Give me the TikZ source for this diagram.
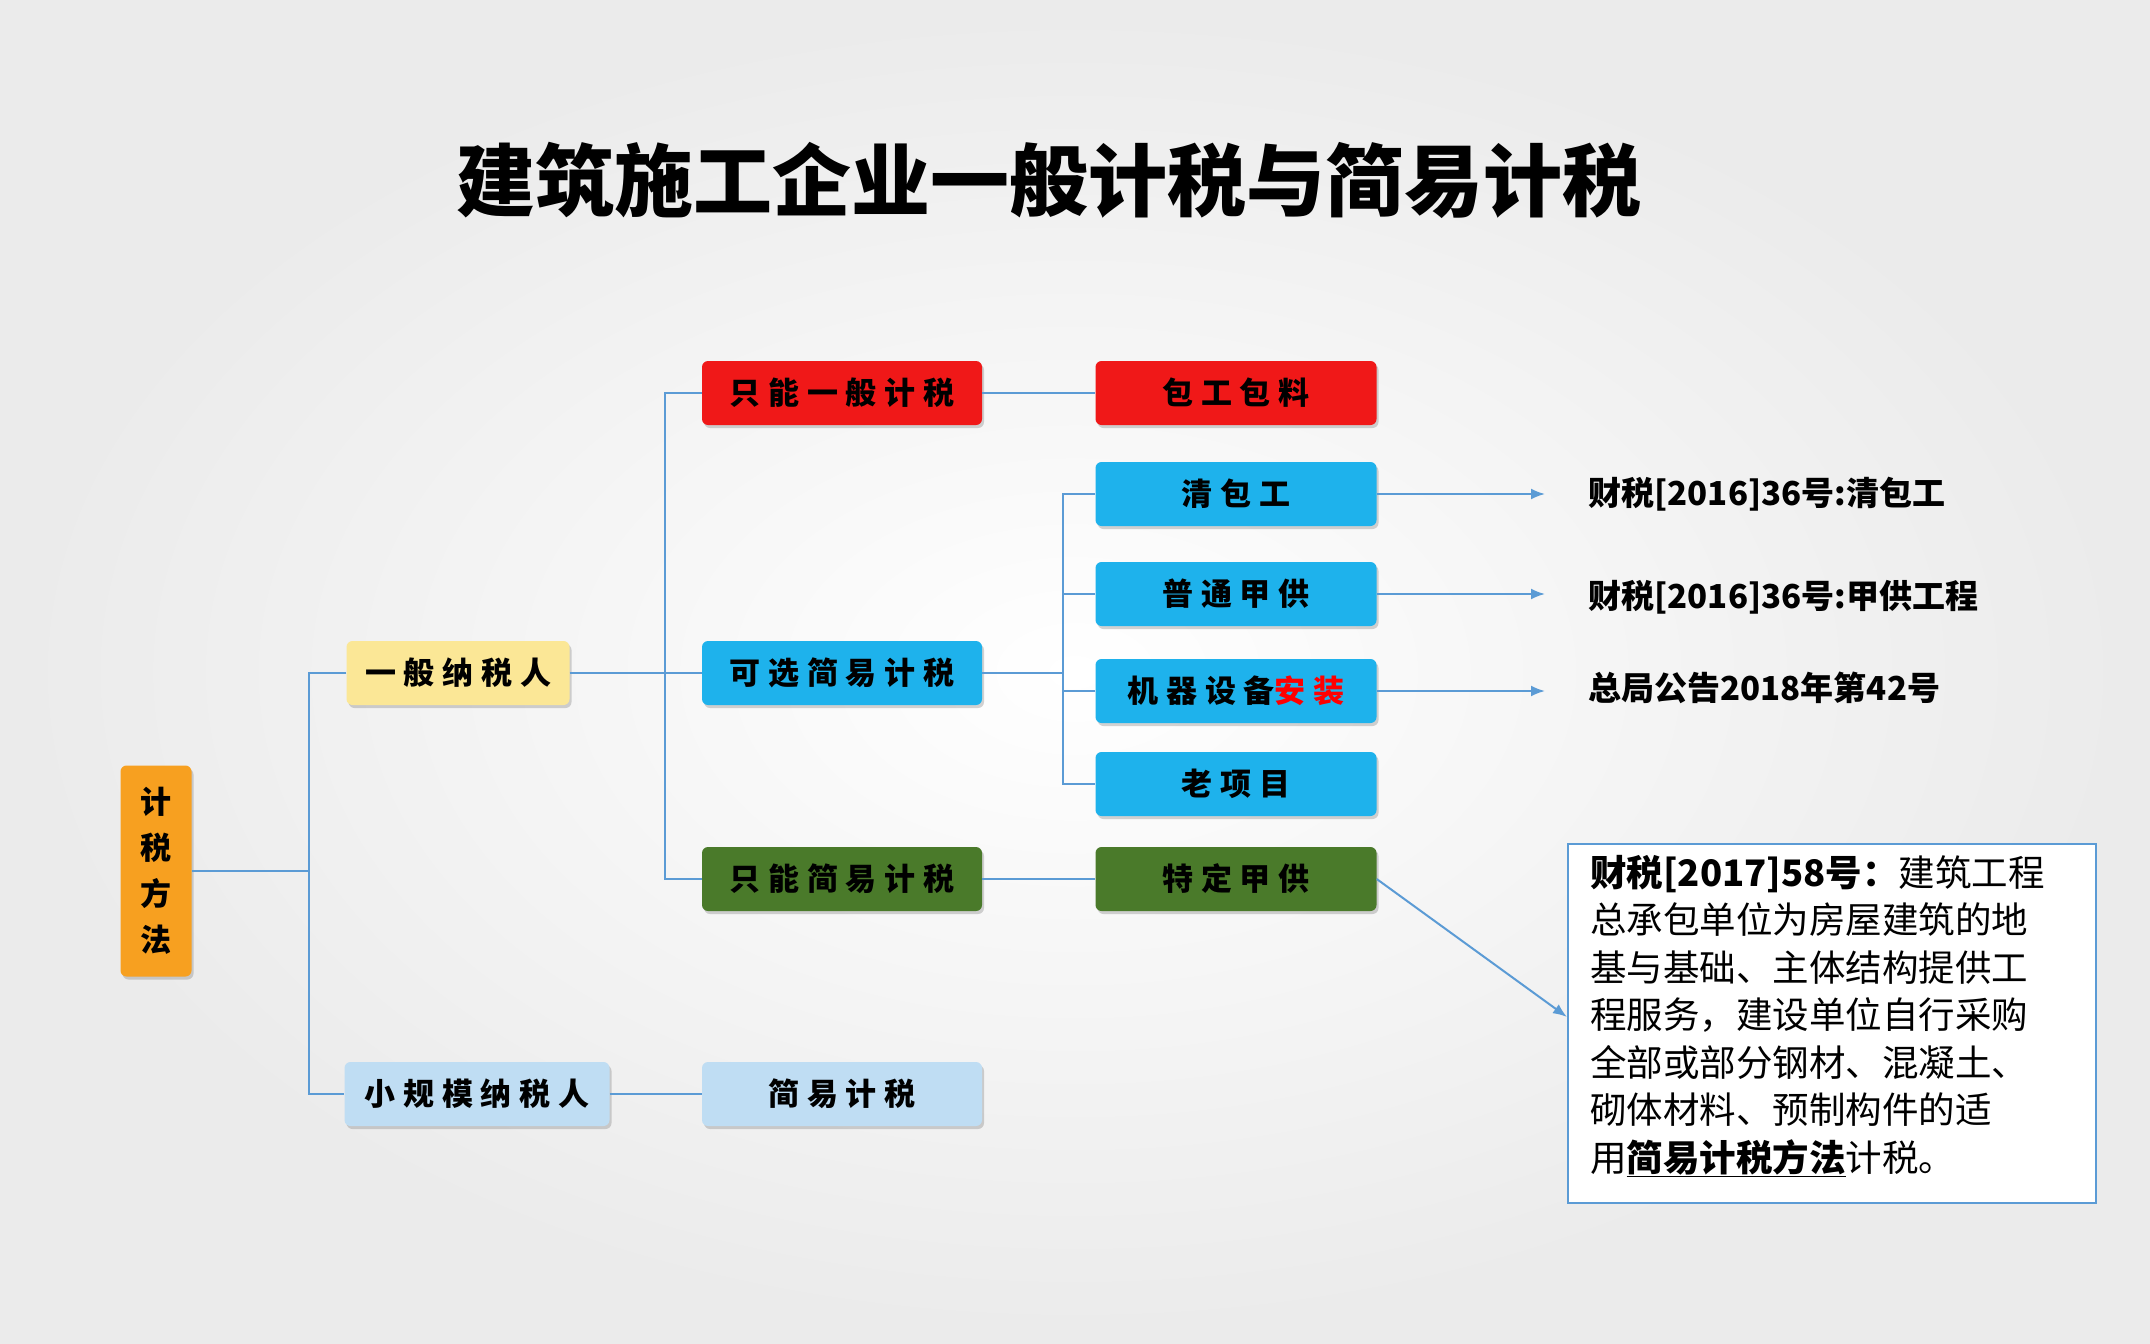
\documentclass[tikz,border=0pt]{standalone}
\usepackage{fontspec}
\setmainfont{Noto Sans CJK SC}
\newfontfamily\spf[LetterSpace=25]{Noto Sans CJK SC}
\usetikzlibrary{shadows,arrows.meta,calc}
\definecolor{lineblue}{HTML}{5B9BD5}
\definecolor{cred}{HTML}{F01818}
\definecolor{cblue}{HTML}{1EB2EC}
\definecolor{cgreen}{HTML}{4A7A2A}
\definecolor{cyellow}{HTML}{FBE796}
\definecolor{clblue}{HTML}{BFDDF3}
\definecolor{corange}{HTML}{F7A020}
\begin{document}
\begin{tikzpicture}[x=1pt,y=-1pt,
  bx/.style={rounded corners=6pt,minimum height=64pt,inner sep=0pt,font=\spf\fontsize{31}{34}\selectfont\bfseries,drop shadow={shadow xshift=2pt,shadow yshift=-3pt,opacity=0.35}},
  conn/.style={draw=lineblue,line width=2pt},
  arr/.style={conn,-{Latex[length=14pt,width=11pt]}},
  note/.style={anchor=west,font=\fontsize{33}{36}\selectfont\bfseries}]
\shade[inner color=white,outer color=black!8] (0,0) rectangle (2150,1344);
\useasboundingbox (0,0) rectangle (2150,1344);
\node (title) at (1049,180) {\fontsize{79}{86}\selectfont\bfseries 建筑施工企业一般计税与简易计税};
% level 0
\node[bx,fill=corange,minimum width=71pt,minimum height=211pt,align=center,font=\fontsize{31}{46}\selectfont\bfseries] (root) at (156,871) {计\\税\\方\\法};
% level 1
\node[bx,fill=cyellow,minimum width=223pt] (yb) at (458,673) {一般纳税人};
\node[bx,fill=clblue,minimum width=265pt] (xg) at (477,1094) {小规模纳税人};
% level 2
\node[bx,fill=cred,minimum width=280pt] (zy) at (842,393) {只能一般计税};
\node[bx,fill=cblue,minimum width=280pt] (kx) at (842,673) {可选简易计税};
\node[bx,fill=cgreen,minimum width=280pt] (zj) at (842,879) {只能简易计税};
\node[bx,fill=clblue,minimum width=280pt] (jy) at (842,1094) {简易计税};
% level 3
\node[bx,fill=cred,minimum width=281pt] (bg) at (1236,393) {包工包料};
\node[bx,fill=cblue,minimum width=281pt] (qb) at (1236,494) {清包工};
\node[bx,fill=cblue,minimum width=281pt] (pt) at (1236,594) {普通甲供};
\node[bx,fill=cblue,minimum width=281pt] (jq) at (1236,691) {机器设备\textcolor{red}{安装}};
\node[bx,fill=cblue,minimum width=281pt] (lx) at (1236,784) {老项目};
\node[bx,fill=cgreen,minimum width=281pt] (td) at (1236,879) {特定甲供};
% notes
\node[note] (n1) at (1585,494) {财税[2016]36号:清包工};
\node[note] (n2) at (1585,597) {财税[2016]36号:甲供工程};
\node[note] (n3) at (1585,688) {总局公告2018年第42号};
\node[draw=lineblue,line width=2pt,fill=white,anchor=north west,minimum width=528pt,minimum height=359pt,inner sep=0pt] (box) at (1567,843) {};
\node[anchor=north west,align=left,font=\fontsize{36.5}{47.5}\selectfont,inner sep=0pt] (boxt) at (1590,855) {{\bfseries 财税[2017]58号：}建筑工程\\总承包单位为房屋建筑的地\\基与基础、主体结构提供工\\程服务，建设单位自行采购\\全部或部分钢材、混凝土、\\砌体材料、预制构件的适\\用\underline{\bfseries 简易计税方法}计税。};
% connectors
\coordinate (t0) at (309,0);
\draw[conn] (root.east) -- (root.east -| t0);
\draw[conn] (yb.west) -| (t0 |- root.east) |- (xg.west);
\coordinate (t1) at (665,0);
\draw[conn] (yb.east) -- (kx.west);
\draw[conn] (zy.west) -| (t1 |- kx.west) |- (zj.west);
\coordinate (t2) at (1063,0);
\draw[conn] (kx.east) -- (kx.east -| t2);
\draw[conn] (qb.west) -| (t2 |- jq.west) |- (lx.west);
\draw[conn] (pt.west) -- (pt.west -| t2);
\draw[conn] (jq.west) -- (jq.west -| t2);
\draw[conn] (zy.east) -- (bg.west);
\draw[conn] (zj.east) -- (td.west);
\draw[conn] (xg.east) -- (jy.west);
\draw[arr] (qb.east) -- ($(qb.east -| n1.west)+(-40,0)$);
\draw[arr] (pt.east) -- ($(pt.east -| n2.west)+(-40,0)$);
\draw[arr] (jq.east) -- ($(jq.east -| n3.west)+(-40,0)$);
\draw[arr] (td.east) -- (box.west |- 0,1017);
\end{tikzpicture}
\end{document}
